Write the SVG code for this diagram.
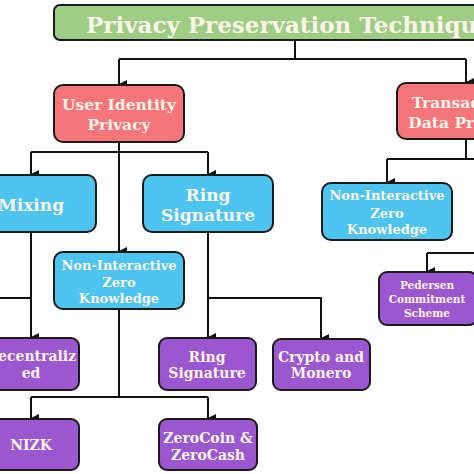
<svg xmlns="http://www.w3.org/2000/svg" width="474" height="474" viewBox="0 0 474 474">
<defs>
<style>
.box{stroke:#1a1a1a;stroke-width:2}
.g{fill:#9ecd86}
.r{fill:#f4767b}
.b{fill:#4ec4f1}
.p{fill:#9b57cf}
.t{font-family:"DejaVu Serif","Liberation Serif",serif;font-weight:bold;fill:#fdf3e6;text-anchor:middle}
.wire{fill:none;stroke:#111;stroke-width:2}
</style>
<marker id="ah" markerWidth="8" markerHeight="8" refX="3" refY="6" orient="auto-start-reverse" markerUnits="userSpaceOnUse" viewBox="0 0 6 6">
<path d="M0,0 L6,0 L3,6 Z" fill="#111"/>
</marker>
</defs>
<rect width="474" height="474" fill="#fff"/>
<g id="connectors" class="wire">
<path d="M295,40 V59 M119,59 H466"/>
<path d="M119,59 V84" marker-end="url(#ah)"/>
<path d="M466,59 V82" marker-end="url(#ah)"/>
<path d="M119,142 V152 M31,152 H208"/>
<path d="M31,152 V174" marker-end="url(#ah)"/>
<path d="M208,152 V174" marker-end="url(#ah)"/>
<path d="M119,152 V251" marker-end="url(#ah)"/>
<path d="M-5,298 H31"/>
<path d="M31,232 V337" marker-end="url(#ah)"/>
<path d="M208,232 V337" marker-end="url(#ah)"/>
<path d="M208,298 H321 V338" marker-end="url(#ah)"/>
<path d="M119,309 V397 M31,397 H208"/>
<path d="M31,397 V418" marker-end="url(#ah)"/>
<path d="M208,397 V418" marker-end="url(#ah)"/>
<path d="M466,139 V159 M387,159 H480"/>
<path d="M387,159 V182" marker-end="url(#ah)"/>
<path d="M427,253 H480"/>
<path d="M427,253 V271" marker-end="url(#ah)"/>
</g>
<g id="title">
<rect class="box g" x="54" y="5" width="470" height="35" rx="6"/>
<text class="t" x="86" y="33" font-size="23" style="text-anchor:start">Privacy Preservation Techniques</text>
</g>
<g id="user-identity">
<rect class="box r" x="54" y="85" width="130" height="57" rx="9"/>
<text class="t" x="119" y="110" font-size="15.5">User Identity</text>
<text class="t" x="119" y="130" font-size="15.5">Privacy</text>
</g>
<g id="transaction">
<rect class="box r" x="397" y="83" width="130" height="56" rx="9"/>
<text class="t" x="463" y="108" font-size="15.5">Transaction</text>
<text class="t" x="463" y="128" font-size="15.5">Data Privacy</text>
</g>
<g id="mixing">
<rect class="box b" x="-34" y="175" width="130" height="57" rx="9"/>
<text class="t" x="31" y="211" font-size="17">Mixing</text>
</g>
<g id="ring-signature">
<rect class="box b" x="143" y="175" width="130" height="57" rx="9"/>
<text class="t" x="208" y="201" font-size="17">Ring</text>
<text class="t" x="208" y="221" font-size="17">Signature</text>
</g>
<g id="nizk-left">
<rect class="box b" x="54" y="252" width="130" height="57" rx="9"/>
<text class="t" x="119" y="270" font-size="13">Non-Interactive</text>
<text class="t" x="119" y="287" font-size="13">Zero</text>
<text class="t" x="119" y="303" font-size="13">Knowledge</text>
</g>
<g id="nizk-right">
<rect class="box b" x="322" y="183" width="130" height="57" rx="9"/>
<text class="t" x="387" y="200" font-size="13">Non-Interactive</text>
<text class="t" x="387" y="218" font-size="13">Zero</text>
<text class="t" x="387" y="234" font-size="13">Knowledge</text>
</g>
<g id="decentralized">
<rect class="box p" x="-17" y="338" width="96" height="52" rx="8"/>
<text class="t" x="31" y="361" font-size="14">Decentraliz</text>
<text class="t" x="31" y="378" font-size="14">ed</text>
</g>
<g id="ring-signature-2">
<rect class="box p" x="159" y="338" width="97" height="52" rx="8"/>
<text class="t" x="207" y="362" font-size="14">Ring</text>
<text class="t" x="207" y="378" font-size="14">Signature</text>
</g>
<g id="crypto-monero">
<rect class="box p" x="273" y="339" width="97" height="51" rx="8"/>
<text class="t" x="321" y="362" font-size="14">Crypto and</text>
<text class="t" x="321" y="378" font-size="14">Monero</text>
</g>
<g id="nizk">
<rect class="box p" x="-17" y="419" width="96" height="51" rx="8"/>
<text class="t" x="31" y="450" font-size="14">NIZK</text>
</g>
<g id="zerocoin">
<rect class="box p" x="159" y="419" width="98" height="51" rx="8"/>
<text class="t" x="208" y="443" font-size="14">ZeroCoin &amp;</text>
<text class="t" x="208" y="460" font-size="14">ZeroCash</text>
</g>
<g id="pedersen">
<rect class="box p" x="379" y="272" width="98" height="53" rx="8"/>
<text class="t" x="427" y="289" font-size="10.5">Pedersen</text>
<text class="t" x="427" y="303" font-size="10.5">Commitment</text>
<text class="t" x="427" y="317" font-size="10.5">Scheme</text>
</g>
</svg>
